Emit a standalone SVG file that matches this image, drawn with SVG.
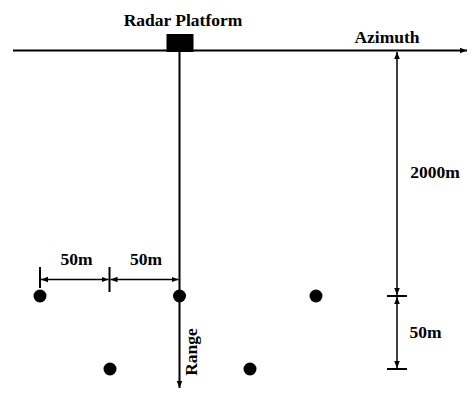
<svg xmlns="http://www.w3.org/2000/svg" width="474" height="405" viewBox="0 0 474 405">
<defs>
<style>
.t{font-family:"Liberation Serif","Times New Roman",serif;font-weight:bold;font-size:17.5px;fill:#000}
.ln{stroke:#000;stroke-width:2;fill:none}
.th{stroke:#000;stroke-width:1.5;fill:none}
</style>
<marker id="ah" viewBox="0 0 10 10" refX="10" refY="5" markerWidth="7" markerHeight="7" markerUnits="userSpaceOnUse" orient="auto-start-reverse">
<path d="M0,1 L10,5 L0,9 z" fill="#000"/>
</marker>
</defs>
<rect width="474" height="405" fill="#fff"/>
<g id="connectors">
<line id="azimuth-axis" class="ln" x1="13" y1="50.5" x2="467" y2="50.5" marker-end="url(#ah)"/>
<line id="range-axis" class="ln" x1="179.5" y1="50" x2="179.5" y2="388" marker-end="url(#ah)"/>
<line class="th" x1="397" y1="52" x2="397" y2="295" marker-start="url(#ah)" marker-end="url(#ah)"/>
<line class="th" x1="397" y1="297" x2="397" y2="368" marker-start="url(#ah)" marker-end="url(#ah)"/>
<line class="ln" x1="387" y1="296" x2="407" y2="296"/>
<line class="ln" x1="387" y1="369" x2="407" y2="369"/>
<line class="ln" x1="40" y1="267" x2="40" y2="288"/>
<line class="ln" x1="109.5" y1="267" x2="109.5" y2="292"/>
<line class="th" x1="41" y1="279.5" x2="108.5" y2="279.5" marker-start="url(#ah)" marker-end="url(#ah)"/>
<line class="th" x1="110.5" y1="279.5" x2="178.5" y2="279.5" marker-start="url(#ah)" marker-end="url(#ah)"/>
</g>
<g id="radar-platform">
<rect x="166.5" y="34" width="27" height="18" fill="#000"/>
<text class="t" x="183" y="26" text-anchor="middle">Radar Platform</text>
</g>
<g id="labels">
<text class="t" x="387" y="43" text-anchor="middle">Azimuth</text>
<text class="t" x="435" y="178" text-anchor="middle">2000m</text>
<text class="t" x="425.5" y="338" text-anchor="middle">50m</text>
<text class="t" x="76.5" y="265" text-anchor="middle">50m</text>
<text class="t" x="146" y="265" text-anchor="middle">50m</text>
<text class="t" transform="translate(197,352) rotate(-90)" text-anchor="middle">Range</text>
</g>
<g id="targets">
<circle cx="40" cy="296" r="6.5" fill="#000"/>
<circle cx="179.5" cy="296" r="6.5" fill="#000"/>
<circle cx="316" cy="296" r="6.5" fill="#000"/>
<circle cx="110" cy="369" r="6.5" fill="#000"/>
<circle cx="250" cy="369" r="6.5" fill="#000"/>
</g>
</svg>
